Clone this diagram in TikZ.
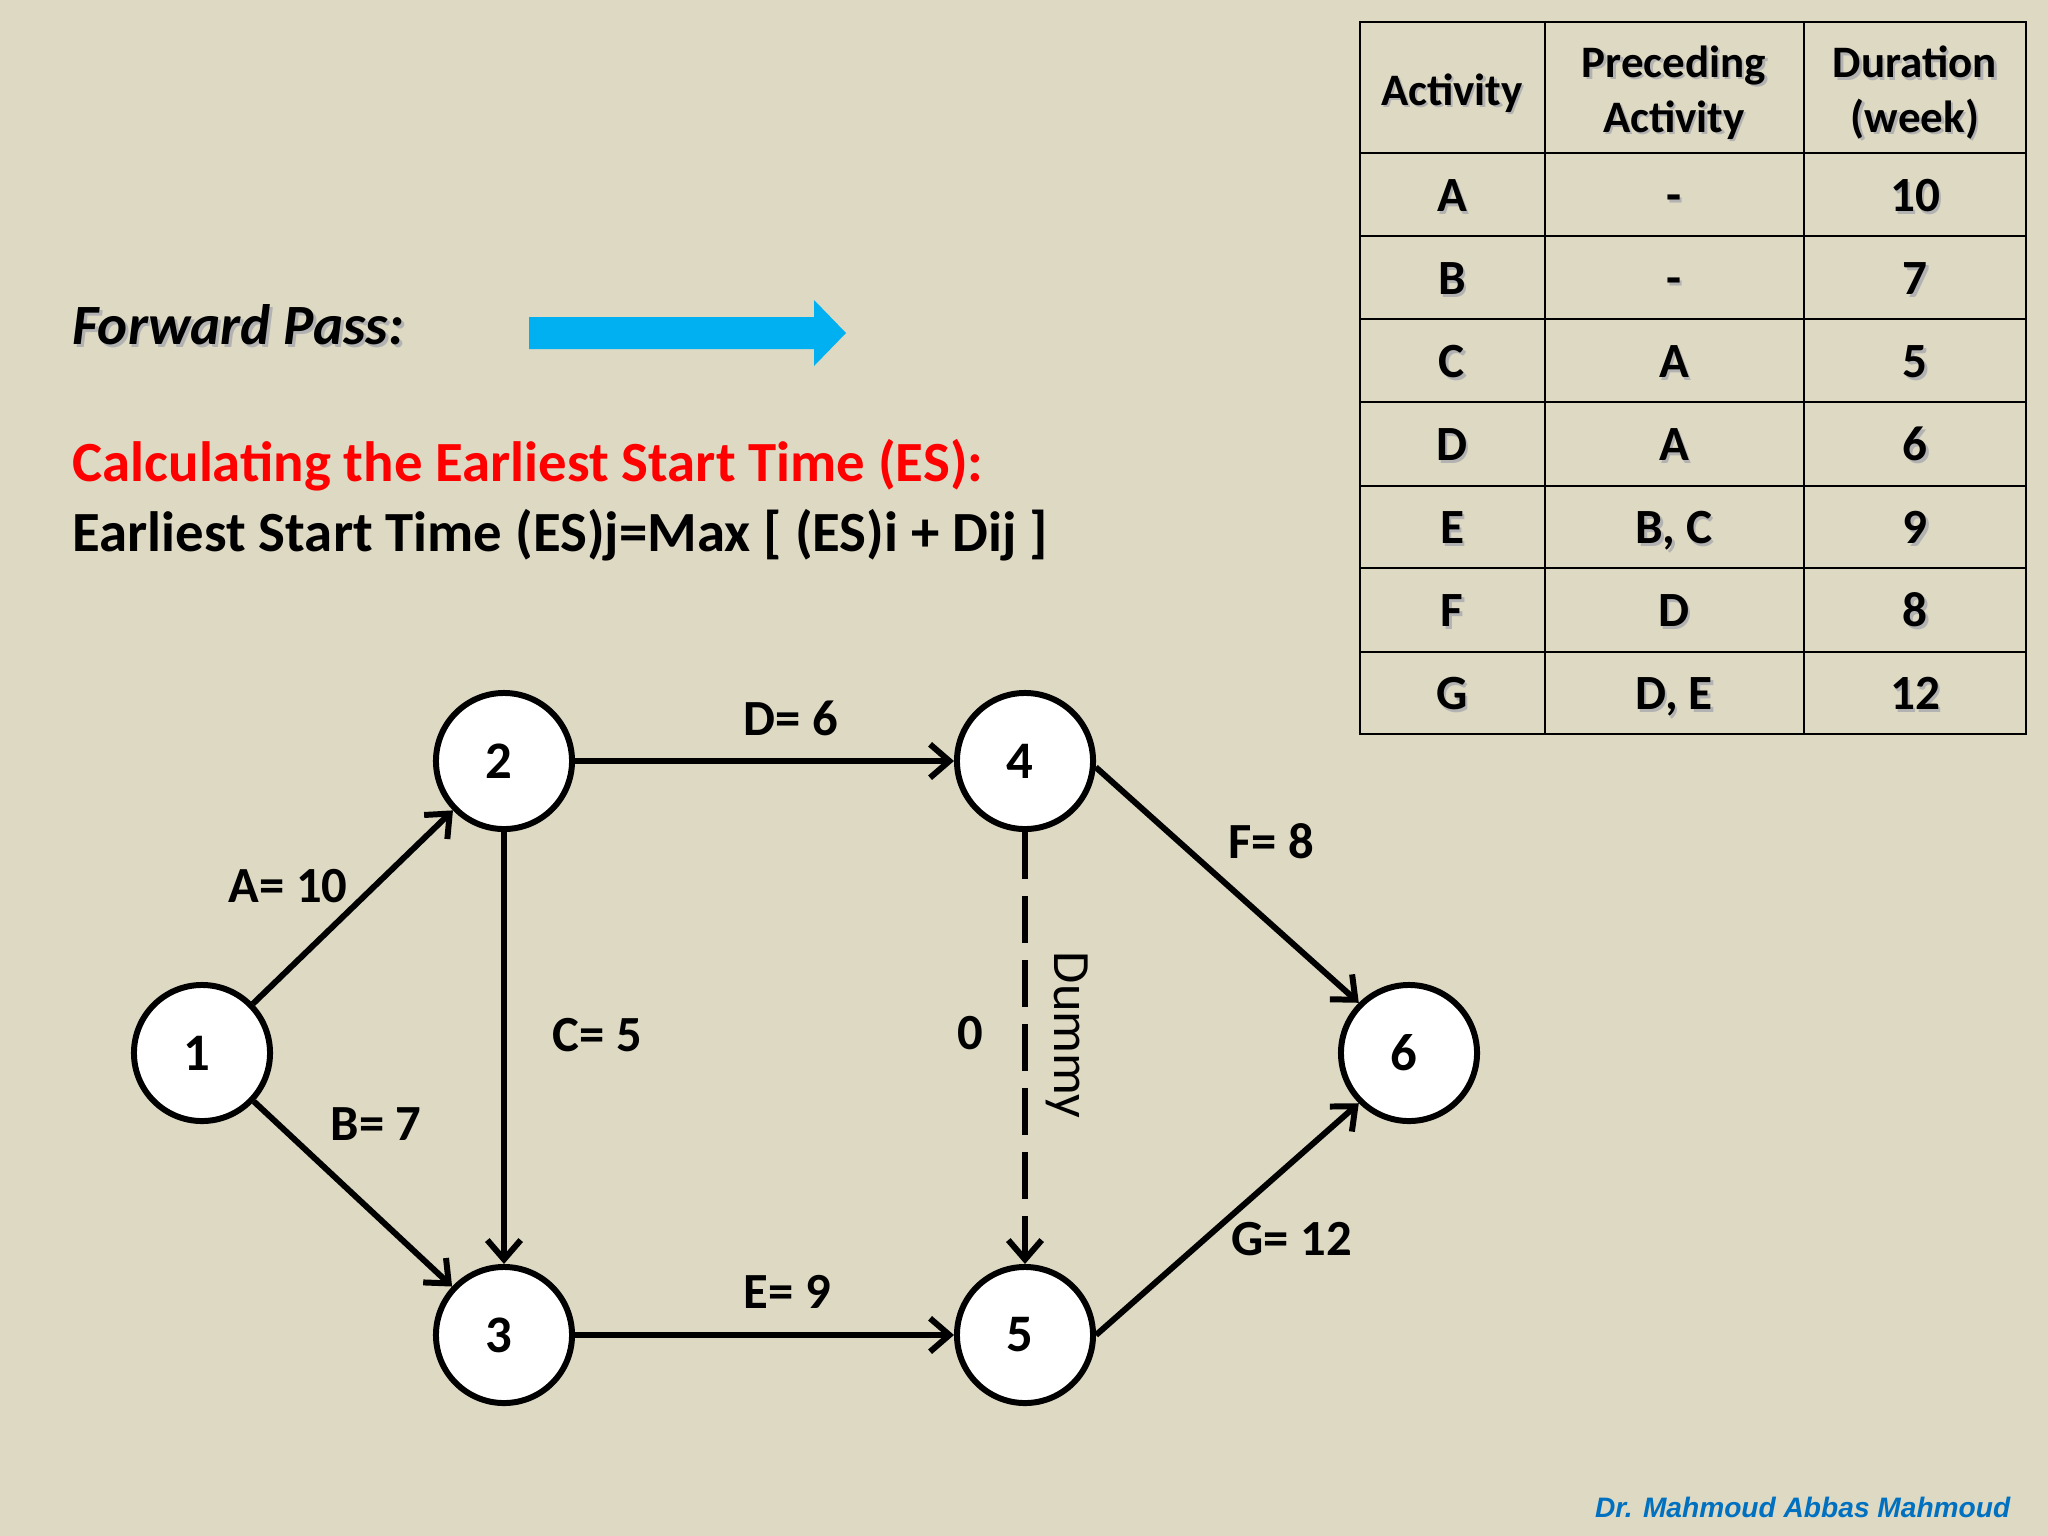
\documentclass[tikz,border=0pt]{standalone}
\usepackage{fontspec}
\setmainfont{Carlito}
\newfontfamily\footfont{Liberation Sans}
\usepackage{xcolor}
\usetikzlibrary{arrows.meta,positioning}

\definecolor{slidebg}{HTML}{DDD9C3}
\definecolor{passblue}{HTML}{00B0F0}
\definecolor{authorblue}{HTML}{0070C0}
\newcommand{\shadowed}[1]{\makebox[0pt][l]{\kern0.05em\raisebox{-0.05em}{\color{black!30}#1}}#1}

\begin{document}
\begin{tikzpicture}[
    x=0.01cm, y=-0.01cm,
    event/.style={circle, draw=black, fill=white, line width=1.7pt, minimum size=1.36cm, inner sep=0pt, font=\fontsize{15}{18}\selectfont\bfseries, execute at begin node={\kern-3.2pt}},
    arrow/.style={-{Straight Barb[length=5.5pt, width=9.5pt]}, line width=1.7pt, draw=black},
    dummy/.style={arrow, dash pattern=on 13.4pt off 4.8pt},
    lbl/.style={font=\fontsize{14.4}{17}\selectfont\bfseries, inner sep=1pt, text height=0.64em, text depth=0pt},
    tblline/.style={line width=0.8pt, draw=black},
    cell/.style={font=\fontsize{14}{17}\selectfont\bfseries, align=center, text height=0.64em, text depth=0pt},
    hcell/.style={font=\fontsize{12.8}{15.6}\selectfont\bfseries, align=center}
]
    % slide background
    \fill[slidebg] (0,0) rectangle (2048,1536);
    \useasboundingbox (0,0) rectangle (2048,1536);

    % Heading
    \node[anchor=west, inner sep=0, font=\fontsize{16.2}{20}\selectfont\bfseries\itshape] (fwd) at (72,326) {\shadowed{Forward Pass:}};
    \fill[passblue] (529,317) -- (814,317) -- (814,300) -- (846,333) -- (814,366) -- (814,349) -- (529,349) -- cycle;
    \node[anchor=west, inner sep=0, text=red, font=\fontsize{16.15}{20}\selectfont\bfseries] (estitle) at (72,465) {Calculating the Earliest Start Time (ES):};
    \node[anchor=west, inner sep=0, font=\fontsize{16.15}{20}\selectfont\bfseries] (esrule) at (72,535) {Earliest Start Time (ES)j=Max [ (ES)i + Dij ]};

    % Events
    \node[event] (n1) at (202,1053) {1};
    \node[event] (n2) at (504,761) {2};
    \node[event] (n3) at (504,1335) {3};
    \node[event] (n4) at (1025,761) {4};
    \node[event] (n5) at (1025,1335) {5};
    \node[event] (n6) at (1409,1053) {6};

    % Activities
    \draw[arrow] (n1) -- node[lbl, pos=.5, above left=-0.7pt and -0.3pt] (la) {A= 10} (n2);
    \draw[arrow] (n1) -- node[lbl, pos=.42, above right=9.1pt and -3.7pt] (lb) {B= 7} (n3);
    \draw[arrow] (n2) -- node[lbl, pos=.482, right=12pt] (lc) {C= 5} (n3);
    \draw[arrow] (n2) -- node[lbl, pos=.57, above=5.4pt] (ld) {D= 6} (n4);
    \draw[arrow] (n3) -- node[lbl, pos=.56, above=5.6pt] (le) {E= 9} (n5);
    \draw[dummy] (n4) -- node[lbl, pos=.478, left=10pt] (lzero) {0}
        node[pos=.47, rotate=-90, anchor=south, inner sep=5pt, font=\fontsize{14.9}{17}\selectfont] (ldum) {Dummy} (n5);
    \draw[arrow] (n4.-5) -- node[lbl, pos=.5, above right=5.6pt and -1.5pt] (lf) {F= 8} (n6.135);
    \draw[arrow] (n5.east) -- node[lbl, pos=.5, below right=2.2pt and -0.7pt] (lg) {G= 12} (n6.225);

    % Activity table
    \draw[tblline] (1360,22) rectangle (2026,734);
    \foreach \cx in {1545,1804} \draw[tblline] (\cx,22) -- (\cx,734);
    \foreach \ry in {153,236,319,402,486,568,652} \draw[tblline] (1360,\ry) -- (2026,\ry);
    \node[hcell] (h-act) at (1452,94) {\shadowed{Activity}};
    \node[hcell] (h-pre) at (1674,94) {\shadowed{Preceding}\\\shadowed{Activity}};
    \node[hcell] (h-dur) at (1915,94) {\shadowed{Duration}\\\shadowed{(week)}};
    \foreach \act/\pre/\dur [count=\i] in {A/-/10, B/-/7, C/A/5, D/A/6, E/{B, C}/9, F/D/8, G/{D, E}/12}{
        \pgfmathsetmacro{\ry}{159+83*(\i-0.5)}
        \node[cell] (act-\i) at (1452,\ry) {\shadowed{\act}};
        \node[cell] (pre-\i) at (1674,\ry) {\shadowed{\pre}};
        \node[cell] (dur-\i) at (1915,\ry) {\shadowed{\dur}};
    }

    % footer
    \node[anchor=east, inner sep=0, text=authorblue, font=\footfont\fontsize{8}{10}\selectfont\bfseries\itshape] (author) at (2011,1507) {Dr. Mahmoud Abbas Mahmoud};
\end{tikzpicture}
\end{document}
